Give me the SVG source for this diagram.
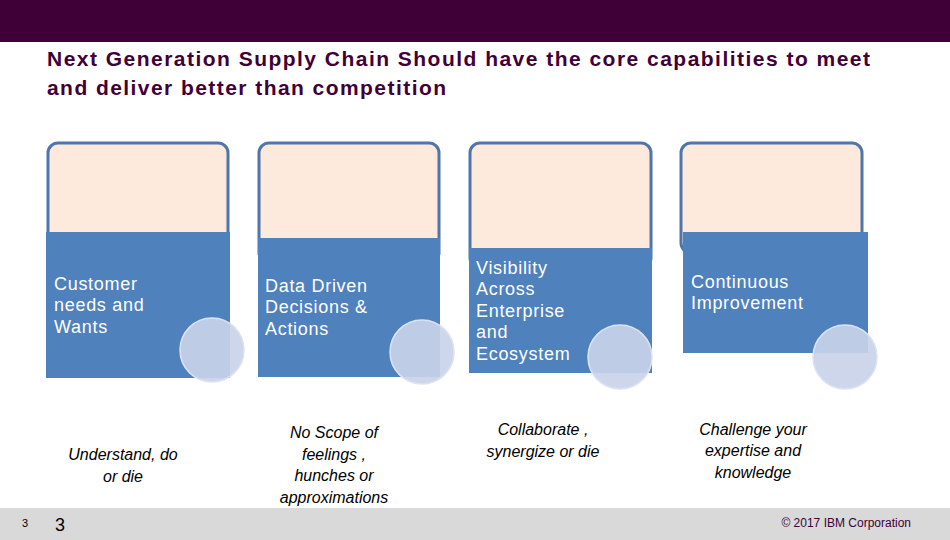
<svg xmlns="http://www.w3.org/2000/svg" width="950" height="540" viewBox="0 0 950 540">
<style>
text{font-family:"Liberation Sans",Arial,sans-serif}
.peach{fill:#fdeadc;stroke:#4f76ab;stroke-width:3}
.blue{fill:#4f81bd}
.circ{fill:#c9d3e9;fill-opacity:0.92;stroke:#dbe3f1;stroke-width:1.5}
.lbl{fill:#fff;font-size:18px;letter-spacing:0.7px}
.sub{fill:#000;font-size:16px;font-style:italic;text-anchor:middle}
</style>
<rect x="0" y="0" width="950" height="42" fill="#3f0038"/>
<rect x="0" y="508" width="950" height="32" fill="#d9d9d9"/>
<text x="47" y="66" font-size="21" font-weight="bold" fill="#3f0038" textLength="823" lengthAdjust="spacing">Next Generation Supply Chain Should have the core capabilities to meet</text>
<text x="47" y="95" font-size="21" font-weight="bold" fill="#3f0038" textLength="399" lengthAdjust="spacing">and deliver better than competition</text>
<g id="card1">
<rect class="peach" x="48" y="143" width="180" height="120" rx="10"/>
<rect class="blue" x="46" y="232" width="184" height="146"/>
<circle class="circ" cx="212" cy="350" r="32"/>
<text class="lbl" x="54" y="290">Customer</text><text class="lbl" x="54" y="311">needs and</text><text class="lbl" x="54" y="333">Wants</text>
<text class="sub" x="123" y="460">Understand, do</text><text class="sub" x="123" y="482">or die</text>
</g>
<g id="card2">
<rect class="peach" x="259" y="143" width="180" height="120" rx="10"/>
<rect class="blue" x="258" y="238" width="182" height="139"/>
<circle class="circ" cx="422" cy="352" r="32"/>
<text class="lbl" x="265" y="292">Data Driven</text><text class="lbl" x="265" y="313">Decisions &amp;</text><text class="lbl" x="265" y="335">Actions</text>
<text class="sub" x="334" y="438">No Scope of</text><text class="sub" x="334" y="460">feelings ,</text><text class="sub" x="334" y="481">hunches or</text><text class="sub" x="334" y="503">approximations</text>
</g>
<g id="card3">
<rect class="peach" x="470" y="143" width="181" height="125" rx="10"/>
<rect class="blue" x="469" y="248" width="183" height="125"/>
<circle class="circ" cx="620" cy="357" r="32"/>
<text class="lbl" x="476" y="274">Visibility</text><text class="lbl" x="476" y="295">Across</text><text class="lbl" x="476" y="317">Enterprise</text><text class="lbl" x="476" y="338">and</text><text class="lbl" x="476" y="360">Ecosystem</text>
<text class="sub" x="543" y="435">Collaborate ,</text><text class="sub" x="543" y="457">synergize or die</text>
</g>
<g id="card4">
<rect class="peach" x="681" y="143" width="181" height="110" rx="10"/>
<rect class="blue" x="683" y="232" width="185" height="121"/>
<circle class="circ" cx="845" cy="357" r="32"/>
<text class="lbl" x="691" y="288">Continuous</text><text class="lbl" x="691" y="309">Improvement</text>
<text class="sub" x="753" y="435">Challenge your</text><text class="sub" x="753" y="456">expertise and</text><text class="sub" x="753" y="478">knowledge</text>
</g>
<g id="connectors"></g>
<text x="22" y="527" font-size="11" fill="#000">3</text>
<text x="55" y="531" font-size="18" fill="#000">3</text>
<text x="911" y="527" font-size="12" fill="#3f0038" text-anchor="end">© 2017 IBM Corporation</text>
</svg>
